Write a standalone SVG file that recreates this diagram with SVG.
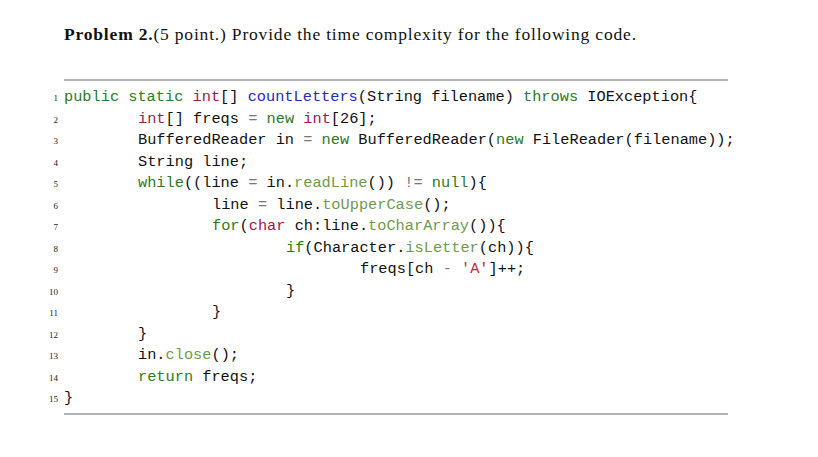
<svg xmlns="http://www.w3.org/2000/svg" width="818" height="457" viewBox="0 0 818 457">
<style>
.c{font-family:"Liberation Mono",monospace;font-size:15.3px;fill:#111;white-space:pre}
.n{font-family:"Liberation Serif",serif;font-size:9px;fill:#222;text-anchor:end}
.k{fill:#2e7a22}.t{fill:#a3184a}.f{fill:#2a2ab8}.m{fill:#6f9a4c}.o{fill:#777}.s{fill:#c8283a}
.ti{font-family:"Liberation Serif",serif;font-size:17.5px;fill:#111}
</style>
<rect width="818" height="457" fill="#fff"/>
<text class="ti" x="64" y="40" textLength="572" lengthAdjust="spacing"><tspan font-weight="bold">Problem 2.</tspan>(5 point.) Provide the time complexity for the following code.</text>
<g id="rules" stroke="#999" stroke-width="1.5">
<line x1="64" y1="80" x2="728" y2="80"/>
<line x1="64" y1="414" x2="728" y2="414"/>
</g>
<g id="numbers">
<text class="n" x="58" y="101">1</text><text class="n" x="58" y="122.5">2</text><text class="n" x="58" y="144">3</text><text class="n" x="58" y="165.5">4</text><text class="n" x="58" y="187">5</text><text class="n" x="58" y="208.5">6</text><text class="n" x="58" y="230">7</text><text class="n" x="58" y="251.5">8</text><text class="n" x="58" y="273">9</text><text class="n" x="58" y="294.5">10</text><text class="n" x="58" y="316">11</text><text class="n" x="58" y="337.5">12</text><text class="n" x="58" y="359">13</text><text class="n" x="58" y="380.5">14</text><text class="n" x="58" y="402">15</text>
</g>
<g id="code" xml:space="preserve">
<text class="c" x="64" y="101"><tspan class="k">public</tspan> <tspan class="k">static</tspan> <tspan class="t">int</tspan>[] <tspan class="f">countLetters</tspan>(String filename) <tspan class="k">throws</tspan> IOException{</text>
<text class="c" x="138" y="122.5"><tspan class="t">int</tspan>[] freqs <tspan class="o">=</tspan> <tspan class="k">new</tspan> <tspan class="t">int</tspan>[26];</text>
<text class="c" x="138" y="144">BufferedReader in <tspan class="o">=</tspan> <tspan class="k">new</tspan> BufferedReader(<tspan class="k">new</tspan> FileReader(filename));</text>
<text class="c" x="138" y="165.5">String line;</text>
<text class="c" x="138" y="187"><tspan class="k">while</tspan>((line <tspan class="o">=</tspan> in.<tspan class="m">readLine</tspan>()) <tspan class="o">!=</tspan> <tspan class="k">null</tspan>){</text>
<text class="c" x="212" y="208.5">line <tspan class="o">=</tspan> line.<tspan class="m">toUpperCase</tspan>();</text>
<text class="c" x="212" y="230"><tspan class="k">for</tspan>(<tspan class="t">char</tspan> ch:line.<tspan class="m">toCharArray</tspan>()){</text>
<text class="c" x="286" y="251.5"><tspan class="k">if</tspan>(Character.<tspan class="m">isLetter</tspan>(ch)){</text>
<text class="c" x="360" y="273">freqs[ch <tspan class="o">-</tspan> <tspan class="s">'A'</tspan>]++;</text>
<text class="c" x="286" y="294.5">}</text>
<text class="c" x="212" y="316">}</text>
<text class="c" x="138" y="337.5">}</text>
<text class="c" x="138" y="359">in.<tspan class="m">close</tspan>();</text>
<text class="c" x="138" y="380.5"><tspan class="k">return</tspan> freqs;</text>
<text class="c" x="64" y="402">}</text>
</g>
</svg>
